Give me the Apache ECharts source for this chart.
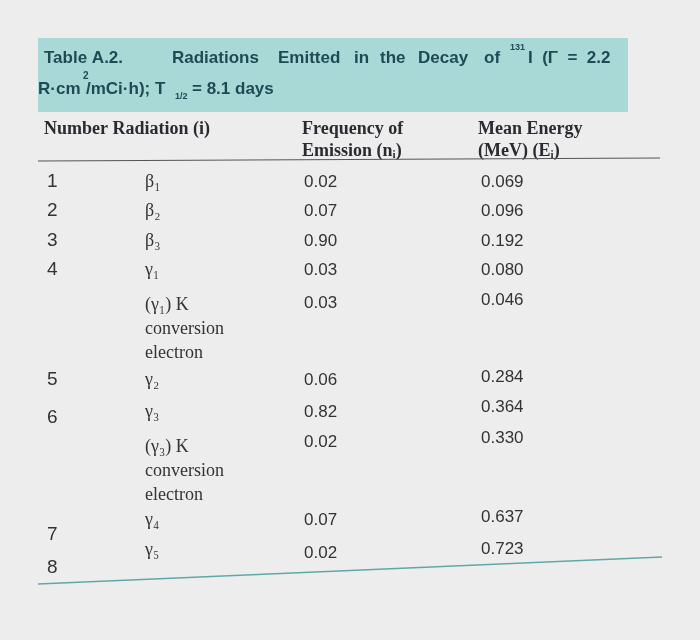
<!DOCTYPE html>
<html><head><meta charset="utf-8">
<script src="https://cdn.jsdelivr.net/npm/echarts@6/dist/echarts.min.js"></script>
<style>html,body{margin:0;background:#eeedee}#c{width:700px;height:640px}</style>
</head><body><div id="c"></div>
<script>
const numbers = ['1','2','3','4','','5','6','','7','8'];
const radiations = ['β₁','β₂','β₃','γ₁','(γ₁) K\nconversion\nelectron','γ₂','γ₃','(γ₃) K\nconversion\nelectron','γ₄','γ₅'];
const frequencies = ['0.02','0.07','0.90','0.03','0.03','0.06','0.82','0.02','0.07','0.02'];
const energies = ['0.069','0.096','0.192','0.080','0.046','0.284','0.364','0.330','0.637','0.723'];
const headers = ['Number Radiation (i)','Frequency of\nEmission (nᵢ)','Mean Energy\n(MeV) (Eᵢ)'];

const rowY = [182,211,241,270,303,380,412,445,520,550];
const numY = [182,211,241,270,0,380,418,0,535,568];
const freqY = [182,211,241,270,303,380,412,442,520,553];
const enY = [182,211,241,270,300,377,407,438,517,549];
const serif = '"Liberation Serif","DejaVu Serif",serif';
const sans = '"Liberation Sans",Arial,sans-serif';
const tc = '#1f4a55';
const g = [];
function t(x,y,s,f){g.push({type:'text',style:{x:x,y:y,text:s,font:f,fill:tc,verticalAlign:'middle'}});}
g.push({type:'rect',shape:{x:38,y:38,width:590,height:74},style:{fill:'#a9d9d6'}});
const big='bold 17px '+sans;
[['Table A.2.',44],['Radiations',172],['Emitted',278],['in',354],['the',380],['Decay',418],['of',484]].forEach(w=>t(w[1],58,w[0],big));
t(510,48,'131','bold 9px '+sans);
t(528,58,'I  (Γ  =  2.2',big);
t(38,89,'R·cm',big);
t(83,76,'2','bold 10px '+sans);
t(86,89,'/mCi·h); T',big);
t(175,97,'1/2','bold 9px '+sans);
t(192,89,'= 8.1 days',big);
g.push({type:'text',style:{x:44,y:129,text:headers[0],font:'bold 18px '+serif,fill:'#2a2a30',verticalAlign:'middle'}});
g.push({type:'text',style:{x:302,y:118,text:headers[1],font:'bold 18px '+serif,fill:'#2a2a30',lineHeight:22}});
g.push({type:'text',style:{x:478,y:118,text:headers[2],font:'bold 18px '+serif,fill:'#2a2a30',lineHeight:22}});
g.push({type:'line',shape:{x1:38,y1:161,x2:660,y2:158},style:{stroke:'#555',lineWidth:1.2}});
g.push({type:'line',shape:{x1:38,y1:584,x2:662,y2:557},style:{stroke:'#5fa8a8',lineWidth:1.5}});
for(let i=0;i<radiations.length;i++){
  if(numbers[i]) g.push({type:'text',style:{x:47,y:numY[i],text:numbers[i],font:'19px '+sans,fill:'#333',verticalAlign:'middle'}});
  const multi = radiations[i].includes('\n');
  g.push({type:'text',style:{x:145,y:rowY[i]-(multi?10:0),text:radiations[i],font:'18px '+serif,fill:'#333',lineHeight:24,verticalAlign:multi?'top':'middle'}});
  g.push({type:'text',style:{x:304,y:freqY[i],text:frequencies[i],font:'17px '+sans,fill:'#333',verticalAlign:'middle'}});
  g.push({type:'text',style:{x:481,y:enY[i],text:energies[i],font:'17px '+sans,fill:'#333',verticalAlign:'middle'}});
}
const ch = echarts.init(document.getElementById('c'));
ch.setOption({backgroundColor:'#eeedee',graphic:g});
</script></body></html>
